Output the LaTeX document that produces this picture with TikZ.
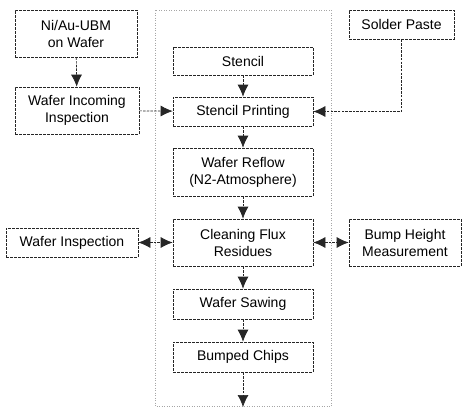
\documentclass[tikz,border=0pt]{standalone}
\usepackage{fontspec}
\setmainfont{Liberation Sans}
\usetikzlibrary{arrows.meta}

\tikzset{
  box/.style={draw=black!85, line width=0.7pt, dash pattern=on 3pt off 1pt,
    inner sep=0pt, align=center, font=\fontsize{14}{17}\selectfont},
  flow/.style={draw=black!85, line width=0.7pt, dash pattern=on 2.5pt off 1.2pt,
    -{Latex[length=12pt,width=11pt]}},
  twoway/.style={flow, {Latex[length=12pt,width=11pt]}-{Latex[length=12pt,width=11pt]}}
}

\begin{document}
\begin{tikzpicture}[x=1pt,y=-1pt]

\useasboundingbox (0,0) rectangle (474,416);

%% frame round the main line
\draw[black!35, line width=0.5pt, dotted] (155,10) rectangle (331,406);

%% boxes
\node[box, minimum width=122pt, minimum height=47pt] (ubm)        at (76,33.5)   {Ni/Au-UBM\\on Wafer};
\node[box, minimum width=124pt, minimum height=47pt] (incoming)   at (77,110.5)  {Wafer Incoming\\Inspection};
\node[box, minimum width=105pt, minimum height=29pt] (paste)      at (401.5,24.5) {Solder Paste};
\node[box, minimum width=140pt, minimum height=28pt] (stencil)    at (243,61)    {Stencil};
\node[box, minimum width=140pt, minimum height=29pt] (printing)   at (243,111.5) {Stencil Printing};
\node[box, minimum width=140pt, minimum height=48pt] (reflow)     at (243,172)   {Wafer Reflow\\(N2-Atmosphere)};
\node[box, minimum width=140pt, minimum height=47pt] (cleaning)   at (243,242.5) {Cleaning Flux\\Residues};
\node[box, minimum width=132pt, minimum height=29pt] (inspection) at (72,242.5)  {Wafer Inspection};
\node[box, minimum width=112pt, minimum height=47pt] (bump)       at (405,242.5) {Bump Height\\Measurement};
\node[box, minimum width=140pt, minimum height=30pt] (sawing)     at (243,304)   {Wafer Sawing};
\node[box, minimum width=140pt, minimum height=30pt] (chips)      at (243,357)   {Bumped Chips};
\coordinate (out) at (243,407);

%% connectors
\draw[flow] (ubm) -- (incoming);
\draw[flow] (incoming) -- (printing);
\draw[flow] (paste.south) |- (printing.east);
\draw[flow] (stencil) -- (printing);
\draw[flow] (printing) -- (reflow);
\draw[flow] (reflow) -- (cleaning);
\draw[twoway] (inspection) -- (cleaning);
\draw[twoway] (cleaning) -- (bump);
\draw[flow] (cleaning) -- (sawing);
\draw[flow] (sawing) -- (chips);
\draw[flow] (chips) -- (out);

\end{tikzpicture}
\end{document}
